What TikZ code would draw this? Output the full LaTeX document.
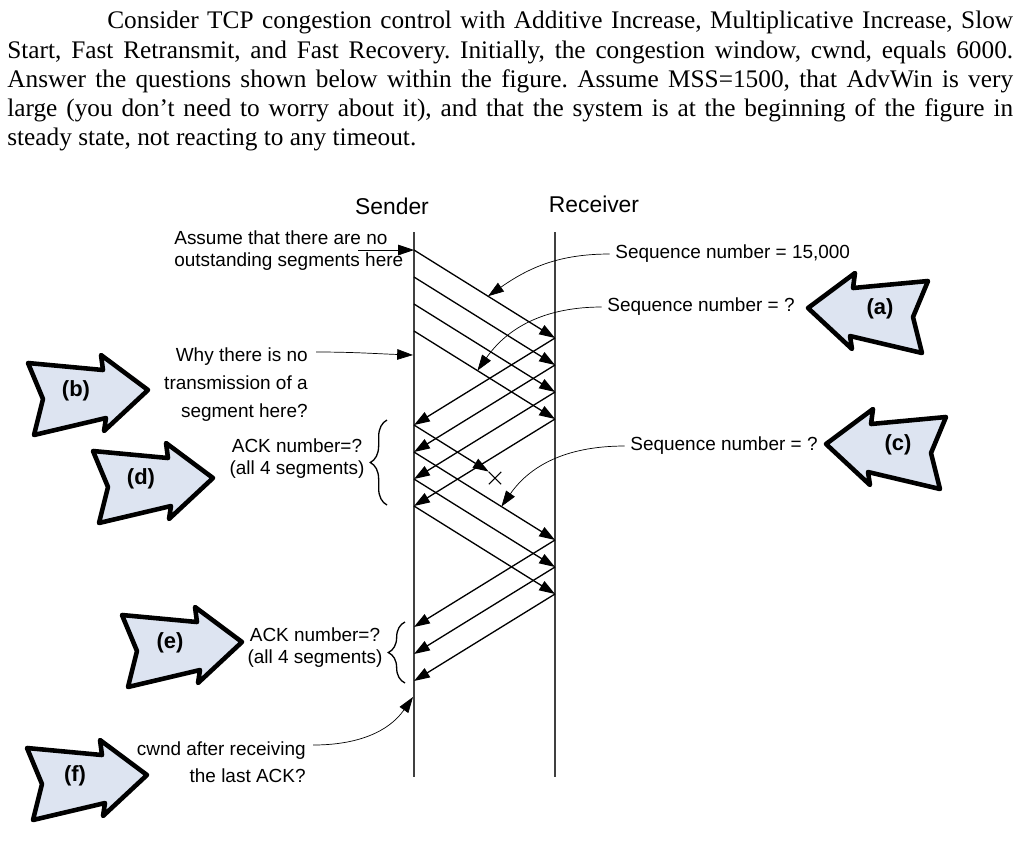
\documentclass[tikz,border=0pt]{standalone}
\usepackage{fontspec}
\setmainfont{Liberation Serif}
\setsansfont{Liberation Sans}
\usepackage{tikz}
\usetikzlibrary{arrows.meta,calc,decorations.pathreplacing,shapes.misc}
\definecolor{ink}{HTML}{000000}
\definecolor{lifeline}{HTML}{404040}
\definecolor{lightblue}{HTML}{DDE4F1}
\frenchspacing
\tikzset{
  life/.style={draw=lifeline,line width=1.1pt},
  seg/.style={-{Triangle[length=9pt,width=6pt]},draw=ink,line width=0.75pt},
  hint/.style={-{Triangle[length=9pt,width=6pt]},draw=ink,line width=0.4pt},
  lbl/.style={font=\sffamily\fontsize{10.8}{12.5}\selectfont,inner sep=0pt},
  head/.style={font=\sffamily\fontsize{13}{15}\selectfont,inner sep=0pt},
  para/.style={font=\fontsize{14.4}{16.6}\selectfont,inner sep=0pt,align=left},
  ackbrace/.style={decorate,decoration={brace,amplitude=9.5pt},draw=ink,line width=0.75pt},
  lostmark/.style={draw=ink,cross out,line width=0.6pt,minimum size=6.5pt,inner sep=0pt},
  pics/bigarrow/.style={code={
    \draw[draw=ink,fill=lightblue,line width=2.6pt,line join=round]
      (0,0) -- (-47,-35) -- (-45,-20) -- (-120,-27) -- (-105,9)
      -- (-114,45) -- (-42,28) -- (-44,41) -- cycle;
    \node[font=\sffamily\bfseries\fontsize{12.5}{14}\selectfont] (tag) at (-72,1) {#1};
  }}
}

\begin{document}
\begin{tikzpicture}[x=0.02cm,y=-0.02cm]
  \path[use as bounding box,fill=white] (0,0) rectangle (1024,840);
  % problem statement
  \node[para,anchor=north west] (intro) at (7,11) {%
    \hspace*{2cm}\makebox[18.12cm][s]{Consider TCP congestion control with Additive Increase, Multiplicative Increase, Slow}\\
    \makebox[20.12cm][s]{Start, Fast Retransmit, and Fast Recovery. Initially, the congestion window, cwnd, equals 6000.}\\
    \makebox[20.12cm][s]{Answer the questions shown below within the figure. Assume MSS=1500, that AdvWin is very}\\
    \makebox[20.12cm][s]{large (you don’t need to worry about it), and that the system is at the beginning of the figure in}\\
    steady state, not reacting to any timeout.};
  % lifelines
  \node[head] (sender) at (392,206) {Sender};
  \node[head] (receiver) at (594,204) {Receiver};
  \coordinate (sTop) at (414,232); \coordinate (sBot) at (414,777);
  \coordinate (rTop) at (555,232); \coordinate (rBot) at (555,777);
  \draw[life] (sTop) -- (sBot);
  \draw[life] (rTop) -- (rBot);
  % send, arrival and ack points
  \foreach \i/\t in {1/250,2/277,3/304,4/331,5/425,6/452,7/479,8/506}{
    \coordinate (s\i) at (414,\t);
    \coordinate (r\i) at (555,\t+88);
    \coordinate (k\i) at (414,\t+175);
  }
  \foreach \i in {1,2,3,4,6,7,8}{
    \draw[seg] (s\i) -- (r\i);
    \draw[seg] (r\i) -- (k\i);
  }
  % segment 5 gets lost
  \coordinate (drop) at ($(s5)!0.53!(r5)$);
  \draw[seg] (s5) -- (drop);
  \node[lostmark] (lost) at (495,478) {};
  % notes
  \node[lbl,align=left,anchor=west] (noout) at (174,251) {Assume that there are no\\outstanding segments here};
  \coordinate (nostart) at (358,250);
  \draw[hint] (nostart) -- (s1);
  \node[lbl,anchor=west] (seq1) at (615,254) {Sequence number = 15,000};
  \coordinate (tgt1) at ($(s1)!0.525!(r1)$);
  \draw[hint] ([xshift=-3pt]seq1.west) to[out=180,in=35] (tgt1);
  \node[lbl,anchor=west] (seq2) at (607,307) {Sequence number = ?};
  \coordinate (tgt2) at ($(s4)!0.45!(r4)$);
  \draw[hint] ([xshift=-3pt]seq2.west) to[out=180,in=55] (tgt2);
  \node[lbl,align=right,anchor=east] (whyno) at (308,385) {Why there is no\\[3.4pt]transmission of a\\[3.4pt]segment here?};
  \coordinate (whytail) at (316,352);
  \coordinate (gap) at (413,355);
  \draw[hint] (whytail) to[out=0,in=178] (gap);
  \node[lbl,anchor=west] (seq3) at (630,446) {Sequence number = ?};
  \coordinate (tgt3) at ($(s6)!0.62!(r6)$);
  \draw[hint] ([xshift=-3pt]seq3.west) to[out=180,in=55] (tgt3);
  % ack braces
  \node[lbl,align=center] (ackd) at (297,459) {ACK number=?\\(all 4 segments)};
  \coordinate (bd1) at (387,505); \coordinate (bd2) at (387,420);
  \draw[ackbrace] (bd1) -- (bd2);
  \node[lbl,align=center] (acke) at (315,648) {ACK number=?\\(all 4 segments)};
  \coordinate (be1) at (405,683); \coordinate (be2) at (405,622);
  \draw[ackbrace] (be1) -- (be2);
  \node[lbl,align=right,anchor=east] (cwnd) at (306,762) {cwnd after receiving\\[3pt]the last ACK?};
  \coordinate (cwndtail) at (313,745);
  \coordinate (after) at (413,697);
  \draw[hint] (cwndtail) to[out=0,in=235] (after);
  % question arrows
  \pic[xscale=-1] (qa) at (808,308) {bigarrow={(a)}};
  \pic (qb) at (148,390) {bigarrow={(b)}};
  \pic[xscale=-1] (qc) at (826,444) {bigarrow={(c)}};
  \pic (qd) at (213,478) {bigarrow={(d)}};
  \pic (qe) at (242,642) {bigarrow={(e)}};
  \pic (qf) at (147,775) {bigarrow={(f)}};
\end{tikzpicture}
\end{document}
